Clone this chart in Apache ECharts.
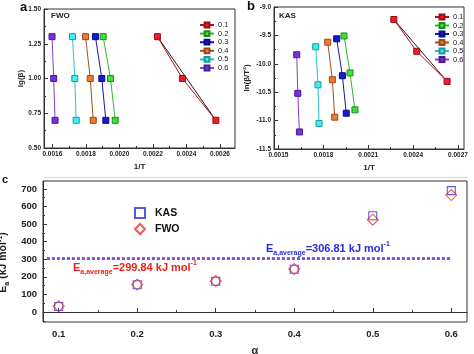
<!DOCTYPE html>
<html>
<head>
<meta charset="utf-8">
<script src="https://cdn.jsdelivr.net/npm/echarts@6/dist/echarts.min.js"></script>
<style>
  html, body { margin: 0; padding: 0; background: #fff; }
  #chart { width: 474px; height: 354px; }
</style>
</head>
<body>
<div id="chart"></div>
<script>
// conversion degrees (legend of panels a and b)
const conversions = ['0.1', '0.2', '0.3', '0.4', '0.5', '0.6'];

// panel a: FWO, lg(beta) against 1/T
const fwoLgBeta = [1.301, 1.0, 0.699];
const fwoInvT = [
  [0.002227, 0.002376, 0.002576],
  [0.001903, 0.001947, 0.001975],
  [0.001857, 0.001895, 0.001919],
  [0.001798, 0.001826, 0.001844],
  [0.001720, 0.001734, 0.001742],
  [0.001598, 0.001608, 0.001616]
];

// panel b: KAS, ln(beta/T^2) against 1/T
const kasInvT = [
  [0.002271, 0.002424, 0.002627],
  [0.001938, 0.001978, 0.002011],
  [0.001889, 0.001927, 0.001953],
  [0.001829, 0.001860, 0.001876],
  [0.001749, 0.001764, 0.001771],
  [0.001622, 0.001629, 0.001640]
];
const kasLnBetaT2 = [
  [-9.22, -9.78, -10.31],
  [-9.51, -10.16, -10.81],
  [-9.56, -10.21, -10.87],
  [-9.62, -10.28, -10.94],
  [-9.70, -10.37, -11.05],
  [-9.84, -10.52, -11.20]
];

// panel c: activation energy against alpha
const alphas = [0.1, 0.2, 0.3, 0.4, 0.5, 0.6];
const eaKAS = [31, 155, 175, 243, 547, 690];
const eaFWO = [33, 156, 176, 244, 525, 665];
const eaAvgKAS = 306.81;
const eaAvgFWO = 299.84;
const avgLineSpan = [0.085, 0.6];

// ticks
const aXTicks = [0.0016, 0.0018, 0.0020, 0.0022, 0.0024, 0.0026];
const aXMinor = [0.0017, 0.0019, 0.0021, 0.0023, 0.0025];
const aYTicks = [0.50, 0.75, 1.00, 1.25, 1.50];
const aYMinor = [0.625, 0.875, 1.125, 1.375];
const bXTicks = [0.0015, 0.0018, 0.0021, 0.0024, 0.0027];
const bXMinor = [0.00165, 0.00195, 0.00225, 0.00255];
const bYTicks = [-11.5, -11.0, -10.5, -10.0, -9.5, -9.0];
const bYMinor = [-11.25, -10.75, -10.25, -9.75, -9.25];
const cXTicks = [0.1, 0.2, 0.3, 0.4, 0.5, 0.6];
const cXMinor = [0.15, 0.25, 0.35, 0.45, 0.55];
const cYTicks = [0, 100, 200, 300, 400, 500, 600, 700];
const cYMinor = [-50, 50, 150, 250, 350, 450, 550, 650];

const FONT = '"Liberation Sans", Arial, sans-serif';
const fills = ['#ee1c2c', '#3ee03a', '#1a1ad0', '#ee7a30', '#44eeee', '#7a30e0'];
const edges = ['#9a0a14', '#1f8a1c', '#0a0a80', '#9a4a18', '#1a9a9a', '#4a1a90'];
const lines = ['#b01020', '#2fb82c', '#1515a8', '#a0501e', '#30c0c0', '#8040d0'];

const chart = echarts.init(document.getElementById('chart'));

function majorAxis(grid, min, max, ticks, fmt, extra) {
  return Object.assign({
    type: 'value', gridIndex: grid, min: min, max: max,
    axisLine: { show: true, lineStyle: { color: '#333', width: 1 } },
    axisTick: { show: true, inside: true, length: 4, customValues: ticks, lineStyle: { color: '#333' } },
    axisLabel: { customValues: ticks, formatter: fmt, fontFamily: FONT, fontWeight: 'bold', fontSize: 6.5, color: '#222', margin: 3 },
    splitLine: { show: false }
  }, extra || {});
}
function minorAxis(grid, min, max, ticks, position) {
  return {
    type: 'value', gridIndex: grid, min: min, max: max, position: position,
    axisLine: { show: false },
    axisTick: { show: true, inside: true, length: 2, customValues: ticks, lineStyle: { color: '#333' } },
    axisLabel: { show: false },
    splitLine: { show: false }
  };
}

const panelSeries = [];
conversions.forEach((name, i) => {
  panelSeries.push({
    name: name, type: 'line', xAxisIndex: 0, yAxisIndex: 0,
    data: fwoInvT[i].map((x, j) => [x, fwoLgBeta[j]]),
    symbol: 'rect', symbolSize: 6,
    itemStyle: { color: fills[i], borderColor: edges[i], borderWidth: 1 },
    lineStyle: { color: lines[i], width: 1 }, z: 3
  });
});
conversions.forEach((name, i) => {
  panelSeries.push({
    name: name, type: 'line', xAxisIndex: 2, yAxisIndex: 2,
    data: kasInvT[i].map((x, j) => [x, kasLnBetaT2[i][j]]),
    symbol: 'rect', symbolSize: 6,
    itemStyle: { color: fills[i], borderColor: edges[i], borderWidth: 1 },
    lineStyle: { color: lines[i], width: 1 }, z: 3
  });
});
// dark fitted line under the 0.1 data in both panels
panelSeries.push({
  name: 'fit a', type: 'line', xAxisIndex: 0, yAxisIndex: 0, symbol: 'none',
  data: [[fwoInvT[0][0], fwoLgBeta[0]], [fwoInvT[0][2], fwoLgBeta[2]]],
  lineStyle: { color: '#3a1010', width: 1 }, z: 2
});
panelSeries.push({
  name: 'fit b', type: 'line', xAxisIndex: 2, yAxisIndex: 2, symbol: 'none',
  data: [[kasInvT[0][0], kasLnBetaT2[0][0]], [kasInvT[0][2], kasLnBetaT2[0][2]]],
  lineStyle: { color: '#3a1010', width: 1 }, z: 2
});

const legendText = { fontFamily: FONT, fontSize: 7.5, color: '#222', padding: [0, 0, 0, -1] };

const option = {
  animation: false,
  backgroundColor: '#fff',
  grid: [
    { left: 44, top: 9, width: 191, height: 139, show: true, borderColor: '#333', borderWidth: 1, outerBoundsMode: 'none', containLabel: false },
    { left: 274, top: 7, width: 190, height: 142, show: true, borderColor: '#333', borderWidth: 1, outerBoundsMode: 'none', containLabel: false },
    { left: 43, top: 181, width: 424, height: 141, show: true, borderColor: '#333', borderWidth: 1, outerBoundsMode: 'none', containLabel: false }
  ],
  xAxis: [
    majorAxis(0, 0.00155, 0.00269, aXTicks, v => v.toFixed(4), {
      name: '1/T', nameLocation: 'middle', nameGap: 15,
      nameTextStyle: { fontFamily: FONT, fontWeight: 'bold', fontSize: 8, color: '#222' }
    }),
    minorAxis(0, 0.00155, 0.00269, aXMinor, 'bottom'),
    majorAxis(1, 0.00147, 0.00274, bXTicks, v => v.toFixed(4), {
      name: '1/T', nameLocation: 'middle', nameGap: 15,
      nameTextStyle: { fontFamily: FONT, fontWeight: 'bold', fontSize: 8, color: '#222' }
    }),
    minorAxis(1, 0.00147, 0.00274, bXMinor, 'bottom'),
    majorAxis(2, 0.08, 0.62, cXTicks, v => v.toFixed(1), {
      axisLabel: { customValues: cXTicks, formatter: v => v.toFixed(1), fontFamily: FONT, fontWeight: 'bold', fontSize: 9.5, color: '#222', margin: 7 },
      name: 'α', nameLocation: 'middle', nameGap: 23,
      nameTextStyle: { fontFamily: FONT, fontWeight: 'bold', fontSize: 11, color: '#222' }
    }),
    minorAxis(2, 0.08, 0.62, cXMinor, 'bottom')
  ],
  yAxis: [
    majorAxis(0, 0.5, 1.5, aYTicks, v => v.toFixed(2), {
      position: 'left',
      name: 'lg(β)', nameLocation: 'middle', nameGap: 19,
      nameTextStyle: { fontFamily: FONT, fontWeight: 'bold', fontSize: 8, color: '#222' }
    }),
    minorAxis(0, 0.5, 1.5, aYMinor, 'left'),
    majorAxis(1, -11.5, -9.0, bYTicks, v => v.toFixed(1), {
      position: 'left',
      name: 'ln(β/T²)', nameLocation: 'middle', nameGap: 23,
      nameTextStyle: { fontFamily: FONT, fontWeight: 'bold', fontSize: 8, color: '#222' }
    }),
    minorAxis(1, -11.5, -9.0, bYMinor, 'left'),
    majorAxis(2, -57, 745, cYTicks, v => String(v), {
      position: 'left',
      axisLabel: { customValues: cYTicks, formatter: v => String(v), fontFamily: FONT, fontWeight: 'bold', fontSize: 9.5, color: '#222', margin: 6 },
      name: '{m|E}{s|a}{m| (kJ mol}{p|-1}{m|)}', nameLocation: 'middle', nameGap: 24,
      nameTextStyle: {
        fontFamily: FONT, fontWeight: 'bold', fontSize: 10.5, color: '#222',
        padding: [0, 22, 0, 0],
        rich: {
          m: { fontFamily: FONT, fontWeight: 'bold', fontSize: 10.5, color: '#222', lineHeight: 14 },
          s: { fontFamily: FONT, fontWeight: 'bold', fontSize: 7, color: '#222', lineHeight: 7, verticalAlign: 'bottom' },
          p: { fontFamily: FONT, fontWeight: 'bold', fontSize: 7, color: '#222', lineHeight: 7, verticalAlign: 'top' }
        }
      }
    }),
    minorAxis(2, -57, 745, cYMinor, 'left')
  ],
  legend: [
    {
      data: conversions, orient: 'vertical', left: 199, top: 21, padding: 0,
      itemWidth: 14, itemHeight: 6, itemGap: 0.6,
      textStyle: legendText, selectedMode: false
    },
    {
      data: conversions, orient: 'vertical', left: 434, top: 13, padding: 0,
      itemWidth: 14, itemHeight: 6, itemGap: 0.5,
      textStyle: legendText, selectedMode: false
    },
    {
      data: ['KAS', 'FWO'], orient: 'vertical', left: 134, top: 207, padding: 0,
      itemWidth: 10, itemHeight: 10, itemGap: 4,
      textStyle: { fontFamily: FONT, fontWeight: 'bold', fontSize: 10.5, color: '#111', padding: [0, 0, 0, 5] },
      selectedMode: false
    }
  ],
  graphic: [
    { type: 'text', left: 20, top: 1, style: { text: 'a', font: 'bold 13px ' + FONT, fill: '#111' } },
    { type: 'text', left: 247, top: 0, style: { text: 'b', font: 'bold 13px ' + FONT, fill: '#111' } },
    { type: 'text', left: 2, top: 174, style: { text: 'c', font: 'bold 11px ' + FONT, fill: '#111' } },
    { type: 'text', left: 51, top: 12, style: { text: 'FWO', font: 'bold 8px ' + FONT, fill: '#222' } },
    { type: 'text', left: 279, top: 12, style: { text: 'KAS', font: 'bold 8px ' + FONT, fill: '#222' } },
    {
      type: 'text', left: 266, top: 241, z: 10,
      style: {
        text: '{m|E}{s|a,average}{m|=' + eaAvgKAS.toFixed(2) + ' kJ mol}{p|-1}',
        rich: {
          m: { fontFamily: FONT, fontWeight: 'bold', fontSize: 11, fill: '#2a2ae0', lineHeight: 16 },
          s: { fontFamily: FONT, fontWeight: 'bold', fontSize: 7, fill: '#2a2ae0', lineHeight: 7, verticalAlign: 'bottom' },
          p: { fontFamily: FONT, fontWeight: 'bold', fontSize: 7, fill: '#2a2ae0', lineHeight: 7, verticalAlign: 'top' }
        }
      }
    },
    {
      type: 'text', left: 73, top: 260, z: 10,
      style: {
        text: '{m|E}{s|a,average}{m|=' + eaAvgFWO.toFixed(2) + ' kJ mol}{p|-1}',
        rich: {
          m: { fontFamily: FONT, fontWeight: 'bold', fontSize: 11, fill: '#e82020', lineHeight: 16 },
          s: { fontFamily: FONT, fontWeight: 'bold', fontSize: 7, fill: '#e82020', lineHeight: 7, verticalAlign: 'bottom' },
          p: { fontFamily: FONT, fontWeight: 'bold', fontSize: 7, fill: '#e82020', lineHeight: 7, verticalAlign: 'top' }
        }
      }
    },
    { type: 'line', shape: { x1: 44, y1: 177.5, x2: 468, y2: 177.5 }, style: { stroke: '#d4d4d4', lineWidth: 1 } }
  ],
  series: panelSeries.concat([
    {
      name: 'avg FWO', type: 'line', xAxisIndex: 4, yAxisIndex: 4, symbol: 'none',
      data: avgLineSpan.map(x => [x, eaAvgFWO]),
      lineStyle: { color: '#e0306a', width: 1.6, type: [3, 2] }, z: 2
    },
    {
      name: 'avg KAS', type: 'line', xAxisIndex: 4, yAxisIndex: 4, symbol: 'none',
      data: avgLineSpan.map(x => [x, eaAvgKAS]),
      lineStyle: { color: '#5a3ad8', width: 1.6, type: [3, 2] }, z: 2
    },
    {
      name: 'KAS', type: 'scatter', xAxisIndex: 4, yAxisIndex: 4,
      data: alphas.map((a, i) => [a, eaKAS[i]]),
      symbol: 'rect', symbolSize: 8,
      itemStyle: { color: 'rgba(0,0,0,0)', borderColor: '#3030d8', borderWidth: 1.1 }, z: 4
    },
    {
      name: 'FWO', type: 'scatter', xAxisIndex: 4, yAxisIndex: 4,
      data: alphas.map((a, i) => [a, eaFWO[i]]),
      symbol: 'diamond', symbolSize: 11,
      itemStyle: { color: 'rgba(0,0,0,0)', borderColor: '#e83030', borderWidth: 1.1 }, z: 5
    }
  ])
};

chart.setOption(option);
</script>
</body>
</html>
